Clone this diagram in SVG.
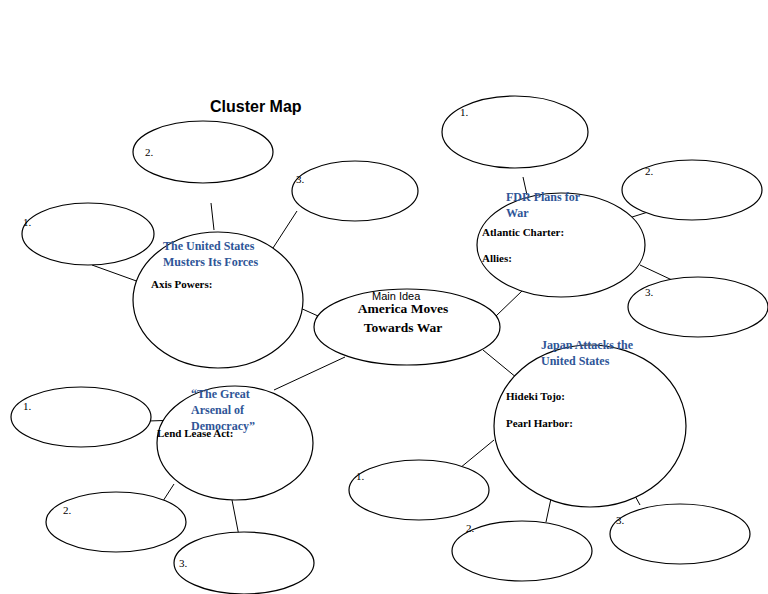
<svg xmlns="http://www.w3.org/2000/svg" width="768" height="594" viewBox="0 0 768 594">
<style>
ellipse{fill:#fff;stroke:#000;stroke-width:1.2}
.c line{stroke:#000;stroke-width:1}
.n{font-family:"Liberation Serif",serif;font-size:11px}
.h{font-family:"Liberation Serif",serif;font-size:12px;font-weight:bold;fill:#2e5597}
.b{font-family:"Liberation Serif",serif;font-size:11px;font-weight:bold}
.m{font-family:"Liberation Serif",serif;font-size:13.5px;font-weight:bold}
</style>
<rect width="768" height="594" fill="#fff"/>
<text x="210" y="112" font-family="Liberation Sans,sans-serif" font-size="16" font-weight="bold">Cluster Map</text>
<g class="c">
<line x1="211" y1="203" x2="214" y2="230"/><line x1="297" y1="211" x2="273" y2="248"/>
<line x1="92" y1="265" x2="142" y2="283"/><line x1="298" y1="307" x2="318" y2="316"/>
<line x1="523" y1="177" x2="527" y2="195"/><line x1="629" y1="218" x2="648" y2="212"/>
<line x1="640" y1="265" x2="672" y2="280"/><line x1="496" y1="316" x2="523" y2="290"/>
<line x1="483" y1="350" x2="517" y2="378"/><line x1="274" y1="390" x2="345" y2="357"/>
<line x1="148" y1="421" x2="180" y2="420"/><line x1="163" y1="501" x2="174" y2="484"/>
<line x1="232" y1="500" x2="239" y2="536"/><line x1="460" y1="468" x2="494" y2="440"/>
<line x1="546" y1="522" x2="552" y2="494"/><line x1="640" y1="505" x2="634" y2="494"/>
</g>
<g id="main"><ellipse cx="407" cy="327" rx="93" ry="38"/>
<text x="372" y="300" font-family="Liberation Sans,sans-serif" font-size="11">Main Idea</text>
<text x="403" y="313" text-anchor="middle" class="m">America Moves</text>
<text x="403" y="332" text-anchor="middle" class="m">Towards War</text></g>
<g id="us"><ellipse cx="218" cy="300" rx="85" ry="68"/>
<text x="163" y="250" class="h">The United States</text><text x="163" y="266" class="h">Musters Its Forces</text>
<text x="151" y="288" class="b">Axis Powers:</text></g>
<g id="arsenal"><ellipse cx="235" cy="443" rx="78" ry="57"/>
<text x="191" y="398" class="h">“The Great</text><text x="191" y="414" class="h">Arsenal of</text><text x="191" y="430" class="h">Democracy”</text>
<text x="157" y="437" class="b">Lend Lease Act:</text></g>
<g id="fdr"><ellipse cx="561" cy="245" rx="84" ry="52"/>
<text x="506" y="201" class="h">FDR Plans for</text><text x="506" y="217" class="h">War</text>
<text x="482" y="236" class="b">Atlantic Charter:</text><text x="482" y="262" class="b">Allies:</text></g>
<g id="japan"><ellipse cx="590" cy="426" rx="96" ry="81"/>
<text x="541" y="349" class="h">Japan Attacks the</text><text x="541" y="365" class="h">United States</text>
<text x="506" y="400" class="b">Hideki Tojo:</text><text x="506" y="427" class="b">Pearl Harbor:</text></g>
<g id="s1"><ellipse cx="203" cy="152" rx="70" ry="31"/><text x="145" y="156" class="n">2.</text></g>
<g id="s2"><ellipse cx="355" cy="191" rx="63" ry="30"/><text x="296" y="183" class="n">3.</text></g>
<g id="s3"><ellipse cx="88" cy="234" rx="66" ry="31"/><text x="23" y="226" class="n">1.</text></g>
<g id="s4"><ellipse cx="515" cy="132" rx="73" ry="36"/><text x="460" y="116" class="n">1.</text></g>
<g id="s5"><ellipse cx="692" cy="190" rx="70" ry="30"/><text x="645" y="175" class="n">2.</text></g>
<g id="s6"><ellipse cx="698" cy="307" rx="70" ry="30"/><text x="645" y="296" class="n">3.</text></g>
<g id="s7"><ellipse cx="81" cy="417" rx="70" ry="30"/><text x="23" y="410" class="n">1.</text></g>
<g id="s8"><ellipse cx="116" cy="522" rx="70" ry="30"/><text x="63" y="514" class="n">2.</text></g>
<g id="s9"><ellipse cx="244" cy="563" rx="70" ry="31"/><text x="179" y="567" class="n">3.</text></g>
<g id="s10"><ellipse cx="419" cy="490" rx="70" ry="30"/><text x="356" y="480" class="n">1.</text></g>
<g id="s11"><ellipse cx="522" cy="551" rx="70" ry="30"/><text x="466" y="532" class="n">2.</text></g>
<g id="s12"><ellipse cx="680" cy="534" rx="70" ry="30"/><text x="616" y="524" class="n">3.</text></g>
</svg>
